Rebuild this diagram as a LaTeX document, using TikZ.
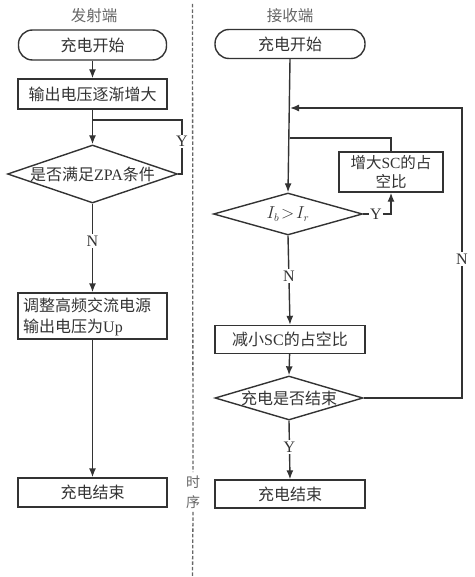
\documentclass[tikz,border=0pt]{standalone}
\usepackage{fontspec}
\setmainfont{Liberation Serif}
\newfontfamily\cjk{Noto Sans CJK SC}
\newcommand\zh[1]{{\cjk #1}}
\usetikzlibrary{arrows.meta,shapes.geometric}
\begin{document}
\begin{tikzpicture}[x=1pt,y=-1pt,
  ln/.style={draw=black!80, line width=1.4pt},
  arr/.style={ln, -{Latex[length=9pt,width=7pt]}},
  txt/.style={text=black!80, font=\fontsize{16}{21}\selectfont, inner sep=1pt},
  ttl/.style={text=black!60, font=\fontsize{15.5}{18}\selectfont},
  proc/.style={ln, rectangle, inner sep=0pt},
  term/.style={ln, rectangle, rounded corners=14pt, inner sep=0pt},
  dia/.style={ln, diamond, inner sep=0pt},
  lab/.style={txt, fill=white, inner sep=1.5pt}
]
\useasboundingbox (0,0) rectangle (474,577);
% ---------- left side ----------
\node[ttl] (t1) at (94,16) {\zh{发射端}};
\node[term, minimum width=148pt, minimum height=30pt] (s1) at (92.5,45) {};
\node[txt] at (s1) {\zh{充电开始}};
\node[proc, minimum width=149pt, minimum height=30pt] (b1) at (92.5,94) {};
\node[txt] at (b1) {\zh{输出电压逐渐增大}};
\node[dia, minimum width=170pt, minimum height=58pt] (d1) at (92.5,174) {};
\node[txt] at (d1) {\zh{是否满足}ZPA\zh{条件}};
\node[proc, minimum width=149pt, minimum height=46pt] (b2) at (92.5,316) {};
\node[txt, anchor=west, align=left] at (22,317) {\zh{调整高频交流电源}\\\zh{输出电压为}Up};
\node[proc, minimum width=149pt, minimum height=29pt] (e1) at (92.5,492.5) {};
\node[txt] at (e1) {\zh{充电结束}};
\coordinate (m1) at (92.5,120);
\coordinate (c1a) at (182,174);
\coordinate (c1b) at (182,120);
\draw[arr] (s1) -- (b1);
\draw[arr] (b1) -- (d1.north);
\draw[ln] (d1.east) -- (c1a) -- node[lab, pos=0.6] {Y} (c1b) -- (m1);
\draw[arr] (d1.south) -- node[lab, pos=0.42] {N} (b2.north);
\draw[arr] (b2) -- (e1);
% ---------- divider ----------
\node[ttl, align=center, font=\fontsize{14}{20}\selectfont] (ts) at (193,492) {\zh{时}\\\zh{序}};
\coordinate (v0) at (192.5,4);
\coordinate (v1) at (192.5,577);
\draw[draw=black!60, line width=1.3pt, dash pattern=on 3.5pt off 2pt] (v0) -- (ts.north);
\draw[draw=black!60, line width=1.3pt, dash pattern=on 3.5pt off 2pt] (ts.south) -- (v1);
% ---------- right side ----------
\node[ttl] (t2) at (290,16) {\zh{接收端}};
\node[term, minimum width=150pt, minimum height=29pt] (s2) at (290,44) {};
\node[txt] at (s2) {\zh{充电开始}};
\node[proc, minimum width=104pt, minimum height=40pt] (b3) at (391,172) {};
\node[txt, align=center, font=\fontsize{15.5}{19}\selectfont] at (b3) {\zh{增大}SC\zh{的占}\\\zh{空比}};
\node[dia, minimum width=149pt, minimum height=42pt] (d2) at (288,214) {};
\node[txt] at (d2) {$I_b\!>\!I_r$};
\node[proc, minimum width=150pt, minimum height=28pt] (b4) at (290,339.5) {};
\node[txt] at (b4) {\zh{减小}SC\zh{的占空比}};
\node[dia, minimum width=148pt, minimum height=44pt] (d3) at (289,398) {};
\node[txt] at (d3) {\zh{充电是否结束}};
\node[proc, minimum width=150pt, minimum height=28pt] (e2) at (290,494) {};
\node[txt] at (e2) {\zh{充电结束}};
\coordinate (m2) at (290,108);
\coordinate (m3) at (290,138);
\coordinate (c2a) at (391,138);
\node[txt, inner sep=1pt] (yl) at (376,214) {Y};
\coordinate (c3a) at (391,214);
\coordinate (c4a) at (462,398);
\coordinate (c4b) at (462,108);
\draw[arr] (s2.south -| m2) -- (d2.north);
\draw[ln] (b3.north) -- (c2a) -- (m3);
\draw[ln] (d2.east) -- (yl.west);
\draw[arr] (yl.east) -- (c3a) -- (b3.south);
\draw[arr] (d2.south) -- node[lab, pos=0.45] {N} (b4.north);
\draw[arr] (b4) -- (d3.north);
\draw[arr] (d3.east) -- (c4a) -- node[lab, pos=0.48] {N} (c4b) -- (m2);
\draw[arr] (d3.south) -- node[lab, pos=0.45] {Y} (e2.north);
\end{tikzpicture}
\end{document}
